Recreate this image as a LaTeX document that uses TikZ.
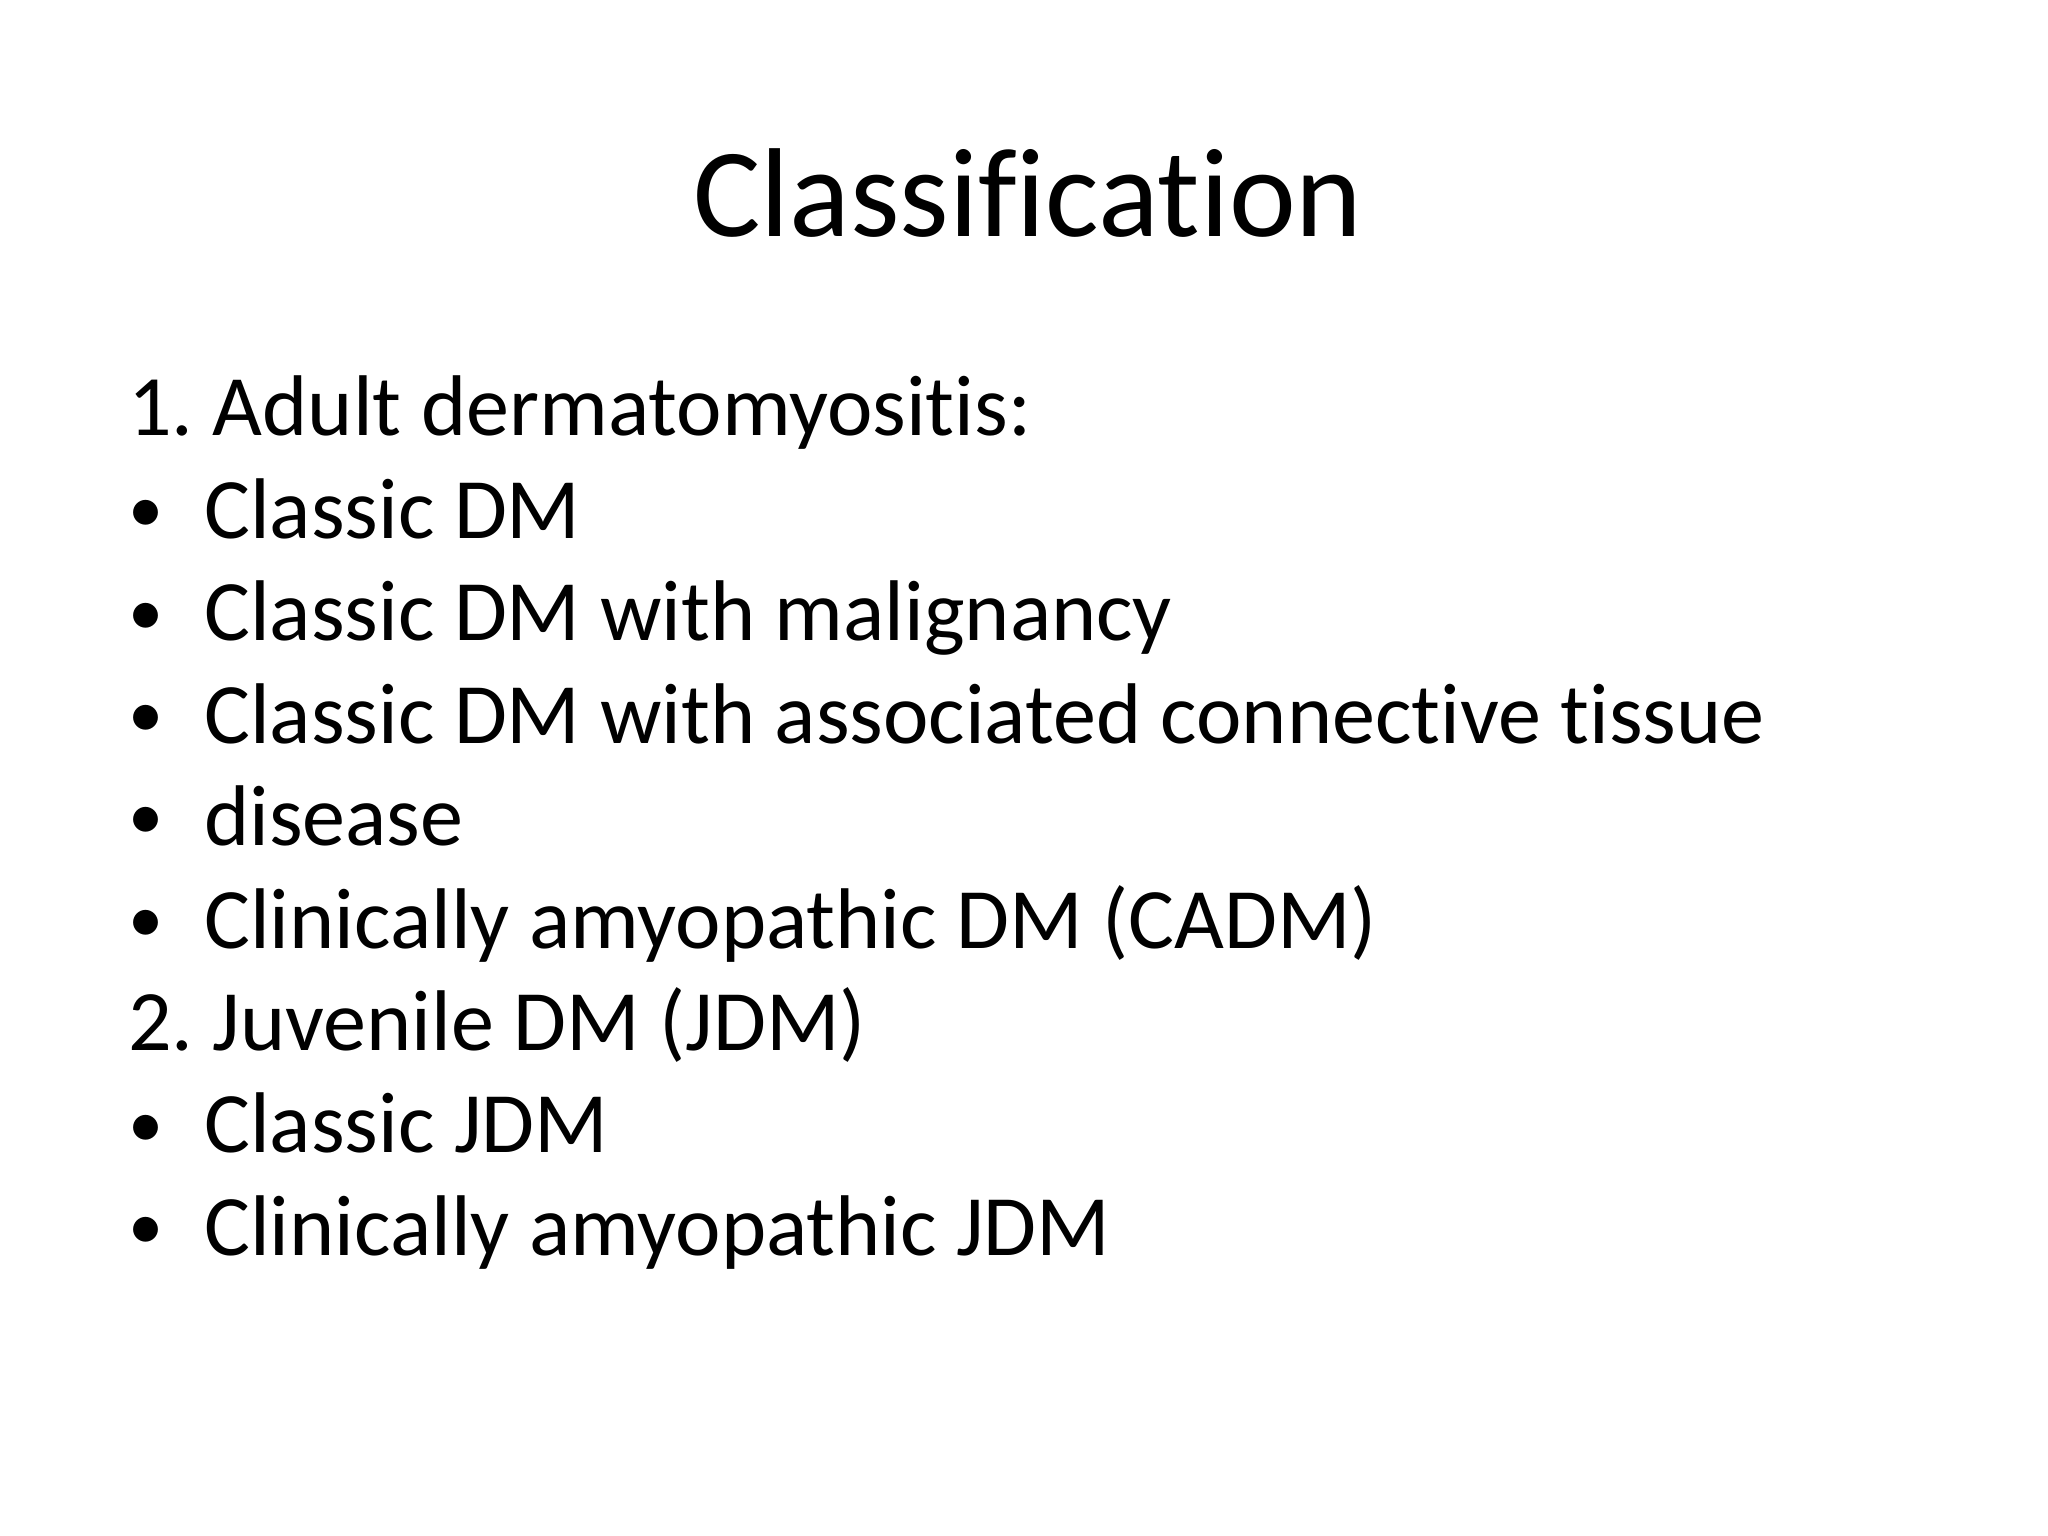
\documentclass[tikz,border=0pt]{standalone}
\usepackage{fontspec}
\setmainfont{Carlito}[RawFeature={-liga}]
\usetikzlibrary{positioning}
\frenchspacing
\tikzset{
  slidetitle/.style={anchor=base, inner sep=0pt, font=\fontsize{36}{43}\selectfont},
  slideline/.style={anchor=base west, inner sep=0pt, font=\fontsize{24.5}{29}\selectfont},
}
\newcommand{\slidebullet}{{\fontsize{20}{24}\selectfont\raisebox{0.08em}{•}}}
\begin{document}
\begin{tikzpicture}
    % Rahmen
    \useasboundingbox[fill=white] (0,0) rectangle (20.48,-15.36);

    % Titel
    \node[slidetitle] (title) at (10.28,-2.363) {Classification};

    % Aufzaehlung
    \node[slideline] (head1) at (1.274,-4.36) {1. Adult dermatomyositis:};
    \foreach \txt [count=\i] in {Classic DM, Classic DM with malignancy,
        Classic DM with associated connective tissue, disease,
        Clinically amyopathic DM (CADM)} {
      \node[slideline] (bullA\i) at (1.274,{-4.36-1.024*\i}) {\slidebullet};
      \node[slideline] (itemA\i) at (2.035,{-4.36-1.024*\i}) {\txt};
    }
    \node[slideline] (head2) at (1.274,{-4.36-1.024*6}) {2. Juvenile DM (JDM)};
    \foreach \txt [count=\i] in {Classic JDM, Clinically amyopathic JDM} {
      \node[slideline] (bullB\i) at (1.274,{-4.36-1.024*(6+\i)}) {\slidebullet};
      \node[slideline] (itemB\i) at (2.035,{-4.36-1.024*(6+\i)}) {\txt};
    }
\end{tikzpicture}
\end{document}
